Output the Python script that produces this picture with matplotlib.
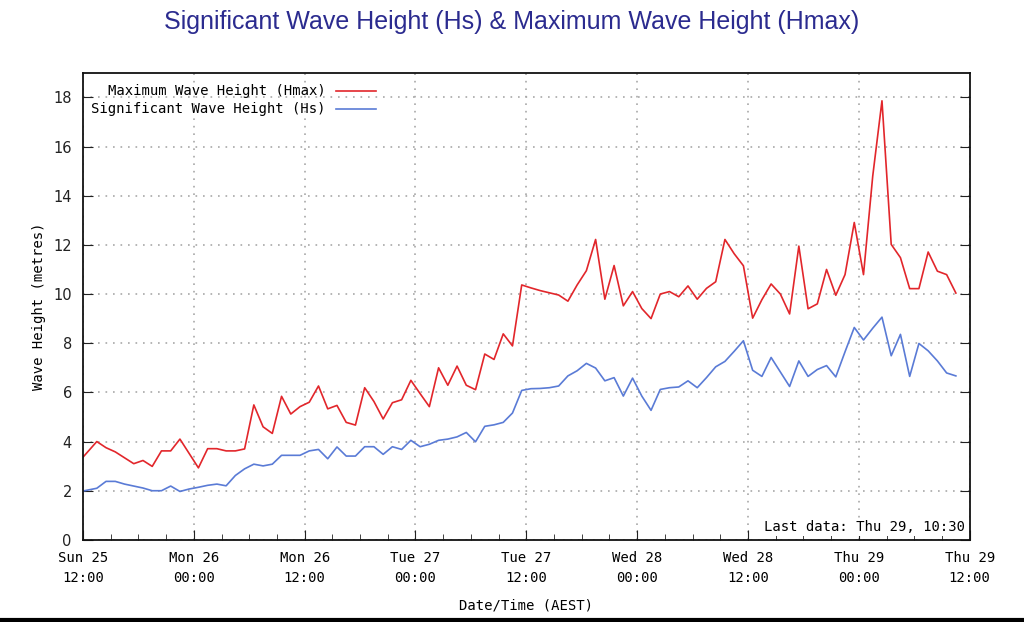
import datetime as dt
import matplotlib
matplotlib.use("Agg")
import matplotlib.pyplot as plt
import matplotlib.dates as mdates
from matplotlib.lines import Line2D

# hours after Sun 25 12:00 (AEST) and the wave heights
hmax_hours = [-0.5, 1.5, 2.5, 3.5, 5.5, 6.5, 7.5, 8.5, 9.5, 10.5, 12.5, 13.5, 14.5, 15.5,
              16.5, 17.5, 18.5, 19.5, 20.5, 21.5, 22.5, 23.5, 24.5, 25.5, 26.5, 27.5,
              28.5, 29.5, 30.5, 31.5, 32.5, 33.5, 34.5, 35.5, 36.5, 37.5, 38.5, 39.5,
              40.5, 41.5, 42.5, 43.5, 44.5, 45.5, 46.5, 47.5, 48.5, 49.5, 50.5, 51.5,
              52.5, 53.5, 54.5, 55.5, 56.5, 57.5, 58.5, 59.5, 60.5, 61.5, 62.5, 63.5,
              64.5, 65.5, 66.5, 67.5, 68.5, 69.5, 70.5, 71.5, 72.5, 73.5, 74.5, 75.5,
              76.5, 77.5, 78.5, 79.5, 80.5, 81.5, 82.5, 83.5, 84.5, 85.5, 86.5, 87.5,
              88.5, 89.5, 90.5, 91.5, 92.5, 93.5, 94.5]
hmax = [3.15, 4.0, 3.75, 3.58, 3.1, 3.23, 2.99, 3.62, 3.62, 4.1, 2.93, 3.71, 3.71, 3.62,
        3.62, 3.7, 5.49, 4.6, 4.33, 5.84, 5.12, 5.42, 5.6, 6.26, 5.33, 5.47,
        4.78, 4.67, 6.19, 5.63, 4.92, 5.58, 5.7, 6.49, 5.95, 5.42, 7.0, 6.29,
        7.07, 6.29, 6.11, 7.56, 7.34, 8.38, 7.89, 10.37, 10.25, 10.14, 10.05, 9.96,
        9.71, 10.37, 10.95, 12.22, 9.79, 11.16, 9.52, 10.1, 9.41, 9.0, 10.0, 10.1,
        9.89, 10.33, 9.79, 10.23, 10.5, 12.22, 11.64, 11.15, 9.02, 9.77, 10.41, 10.0,
        9.19, 11.95, 9.4, 9.6, 11.0, 9.95, 10.79, 12.91, 10.79, 14.8, 17.86, 12.02,
        11.48, 10.22, 10.22, 11.71, 10.93, 10.79, 10.04]

hs_hours = [-0.5, 1.5, 2.5, 3.5, 4.5, 5.5, 6.5, 7.5, 8.5, 9.5, 10.5, 11.5, 12.5, 13.5,
            14.5, 15.5, 16.5, 17.5, 18.5, 19.5, 20.5, 21.5, 22.5, 23.5, 24.5, 25.5,
            26.5, 27.5, 28.5, 29.5, 30.5, 31.5, 32.5, 33.5, 34.5, 35.5, 36.5, 37.5,
            38.5, 39.5, 40.5, 41.5, 42.5, 43.5, 44.5, 45.5, 46.5, 47.5, 48.5, 49.5,
            50.5, 51.5, 52.5, 53.5, 54.5, 55.5, 56.5, 57.5, 58.5, 59.5, 60.5, 61.5,
            62.5, 63.5, 64.5, 65.5, 66.5, 67.5, 68.5, 69.5, 70.5, 71.5, 72.5, 73.5,
            74.5, 75.5, 76.5, 77.5, 78.5, 79.5, 80.5, 81.5, 82.5, 83.5, 84.5, 85.5,
            86.5, 87.5, 88.5, 89.5, 90.5, 91.5, 92.5, 93.5, 94.5]
hs = [1.95, 2.1, 2.38, 2.38, 2.27, 2.19, 2.11, 2.0, 2.0, 2.19, 1.97, 2.07, 2.14, 2.22,
      2.27, 2.2, 2.62, 2.89, 3.08, 3.01, 3.08, 3.44, 3.44, 3.44, 3.62, 3.68,
      3.3, 3.78, 3.41, 3.41, 3.79, 3.79, 3.48, 3.79, 3.68, 4.05, 3.79, 3.89,
      4.05, 4.1, 4.19, 4.37, 3.99, 4.62, 4.68, 4.78, 5.16, 6.08, 6.15, 6.16,
      6.19, 6.26, 6.67, 6.88, 7.18, 6.99, 6.47, 6.6, 5.85, 6.58, 5.85, 5.27,
      6.12, 6.19, 6.22, 6.47, 6.19, 6.6, 7.04, 7.26, 7.67, 8.1, 6.9, 6.65,
      7.42, 6.83, 6.24, 7.28, 6.65, 6.93, 7.09, 6.63, 7.65, 8.64, 8.13, 8.61,
      9.06, 7.49, 8.36, 6.65, 7.99, 7.69, 7.28, 6.79, 6.67]

start = dt.datetime(2021, 4, 25, 12, 0)
end = dt.datetime(2021, 4, 29, 12, 0)
hmax_t = [start + dt.timedelta(hours=h) for h in hmax_hours]
hs_t = [start + dt.timedelta(hours=h) for h in hs_hours]

red = "#e2262b"
blue = "#5a7bd6"
mono = "DejaVu Sans Mono"

fig = plt.figure(figsize=(10.24, 6.22), dpi=100)
ax = fig.add_axes([0.081, 0.132, 0.866, 0.751])

ax.plot(hmax_t, hmax, color=red, lw=1.2)
ax.plot(hs_t, hs, color=blue, lw=1.2)

ax.set_xlim(start, end)
ax.set_ylim(0, 19)
ax.set_yticks(range(0, 19, 2))

ax.xaxis.set_major_locator(mdates.HourLocator(byhour=[0, 12]))
ax.xaxis.set_minor_locator(mdates.HourLocator(byhour=range(0, 24, 3)))
ax.xaxis.set_major_formatter(mdates.DateFormatter("%a %d\n%H:%M"))

ax.grid(True, which="major", color="#a8a8a8", linestyle=(0, (1.0, 3.5)), lw=1.2)
ax.tick_params(axis="both", which="both", direction="in", color="#222222")
ax.tick_params(axis="x", which="major", length=7, pad=8)
ax.tick_params(axis="x", which="minor", length=4)
ax.tick_params(axis="y", which="major", length=7, right=True, pad=8)
for lab in ax.get_xticklabels():
    lab.set_fontfamily(mono)
    lab.set_fontsize(10)
    lab.set_linespacing(1.5)
for lab in ax.get_yticklabels():
    lab.set_fontfamily("DejaVu Sans")
    lab.set_fontsize(10.5)
    lab.set_color("#222222")
for s in ax.spines.values():
    s.set_color("#111111")
    s.set_linewidth(1.3)

ax.set_xlabel("Date/Time (AEST)", fontfamily=mono, fontsize=10, labelpad=10)
ax.set_ylabel("Wave Height (metres)", fontfamily=mono, fontsize=10, labelpad=5)

fig.text(0.5, 0.965, "Significant Wave Height (Hs) & Maximum Wave Height (Hmax)",
         ha="center", va="center", fontsize=18, color="#2b2b8f",
         fontfamily="Liberation Sans")

# key, gnuplot style: text right-aligned, sample line to its right
ax.text(0.274, 0.962, "Maximum Wave Height (Hmax)", transform=ax.transAxes,
        ha="right", va="center", fontfamily=mono, fontsize=10)
ax.text(0.274, 0.923, "Significant Wave Height (Hs)", transform=ax.transAxes,
        ha="right", va="center", fontfamily=mono, fontsize=10)
ax.add_line(Line2D([0.285, 0.33], [0.962, 0.962], transform=ax.transAxes, color=red, lw=1.2))
ax.add_line(Line2D([0.285, 0.33], [0.923, 0.923], transform=ax.transAxes, color=blue, lw=1.2))

ax.text(0.995, 0.012, "Last data: Thu 29, 10:30", transform=ax.transAxes,
        ha="right", va="bottom", fontfamily=mono, fontsize=10,
        bbox=dict(facecolor="white", edgecolor="none", pad=1.5))

fig.add_artist(Line2D([0, 1], [0.003, 0.003], transform=fig.transFigure,
                      color="black", lw=3))

fig.savefig("out.png", dpi=100)
